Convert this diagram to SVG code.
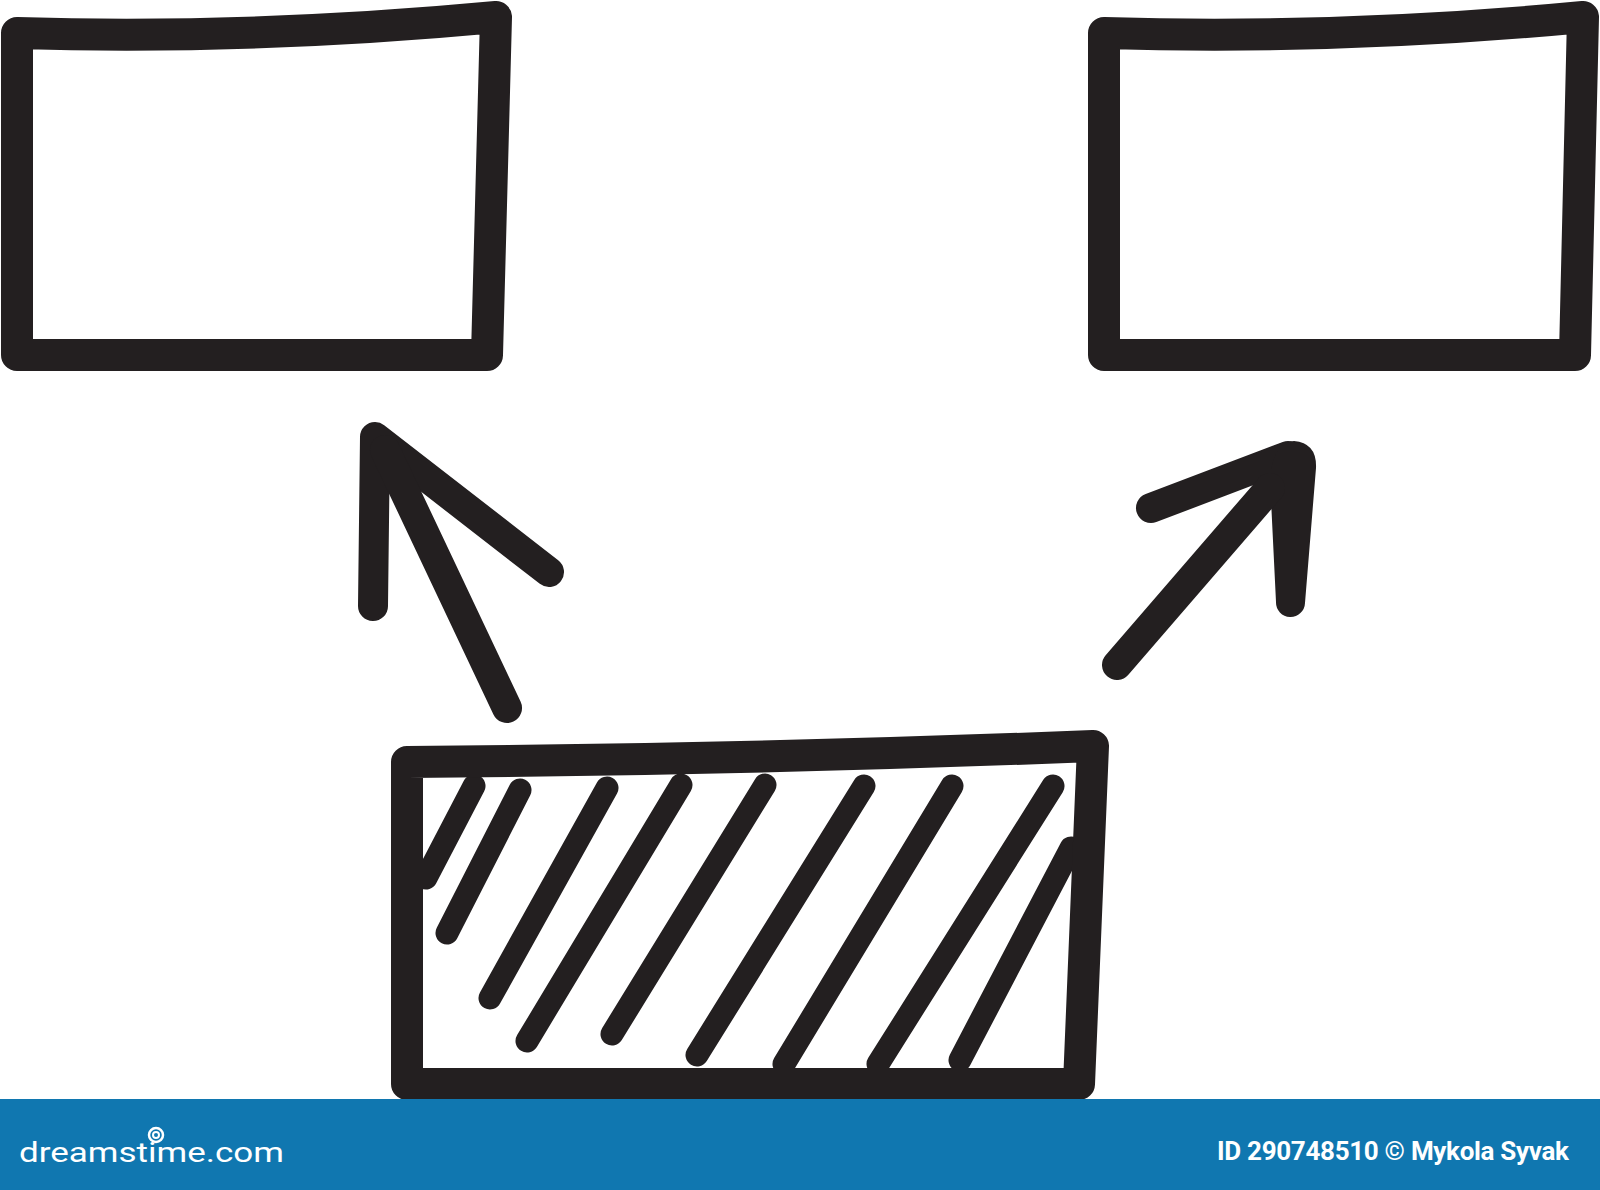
<svg xmlns="http://www.w3.org/2000/svg" width="1600" height="1190" viewBox="0 0 1600 1190">
<style>
.frame{fill:none;stroke:#231f20;stroke-width:32;stroke-linejoin:round;stroke-linecap:round}
.ink{fill:none;stroke:#231f20;stroke-width:30;stroke-linejoin:round;stroke-linecap:round}
.hatch{fill:none;stroke:#231f20;stroke-width:23;stroke-linecap:round}
.foot{fill:#fff;font-family:Roboto,"Liberation Sans",sans-serif}
</style>
<rect x="0" y="0" width="1600" height="1190" fill="#fff"/>
<g id="box-top-left">
<path class="frame" d="M17,33 Q250,40 496,17 L487,355 L17,355 Z"/>
</g>
<g id="box-top-right">
<path class="frame" d="M1104,33 Q1340,40 1583,17 L1575,355 L1104,355 Z"/>
</g>
<g id="box-source">
<g class="hatch">
<line x1="426" y1="878" x2="474" y2="786"/>
<line x1="447" y1="933" x2="520" y2="790"/>
<line x1="490" y1="998" x2="607" y2="788"/>
<line x1="527" y1="1041" x2="681" y2="785"/>
<line x1="612" y1="1034" x2="765" y2="785"/>
<line x1="697" y1="1055" x2="864" y2="786"/>
<line x1="784" y1="1064" x2="952" y2="786"/>
<line x1="878" y1="1064" x2="1053" y2="786"/>
<line x1="960" y1="1060" x2="1071" y2="848"/>
</g>
<path class="frame" d="M407,762 Q740,760 1093,746 L1079,1084 L407,1084 Z"/>
</g>
<g id="connectors">
<g id="arrow-left">
<polyline class="ink" points="373,606 375,437 549,572"/>
<line class="ink" x1="385" y1="450" x2="507" y2="708"/>
</g>
<g id="arrow-right">
<polyline class="ink" points="1151,508 1288,456"/>
<path d="M1271,500 L1276,602 A14.5,14.5 0 0 0 1305,603 L1316,468 Q1317,443 1294,441 Q1276,442 1271,470 Z" fill="#231f20"/>
<line class="ink" x1="1117" y1="665" x2="1270" y2="488"/>
</g>
</g>
<g id="footer">
<rect x="0" y="1099" width="1600" height="91" fill="#1077b0"/>
<circle cx="156" cy="1135" r="7" fill="none" stroke="#fff" stroke-width="2.5"/>
<circle cx="156" cy="1135" r="3" fill="none" stroke="#fff" stroke-width="2"/>
<text class="foot" x="19" y="1162" font-size="28" textLength="265" lengthAdjust="spacingAndGlyphs">dreamstime.com</text>
<text class="foot" x="1217" y="1160" font-size="26" font-weight="bold" textLength="352" lengthAdjust="spacing">ID 290748510 © Mykola Syvak</text>
</g>
</svg>
